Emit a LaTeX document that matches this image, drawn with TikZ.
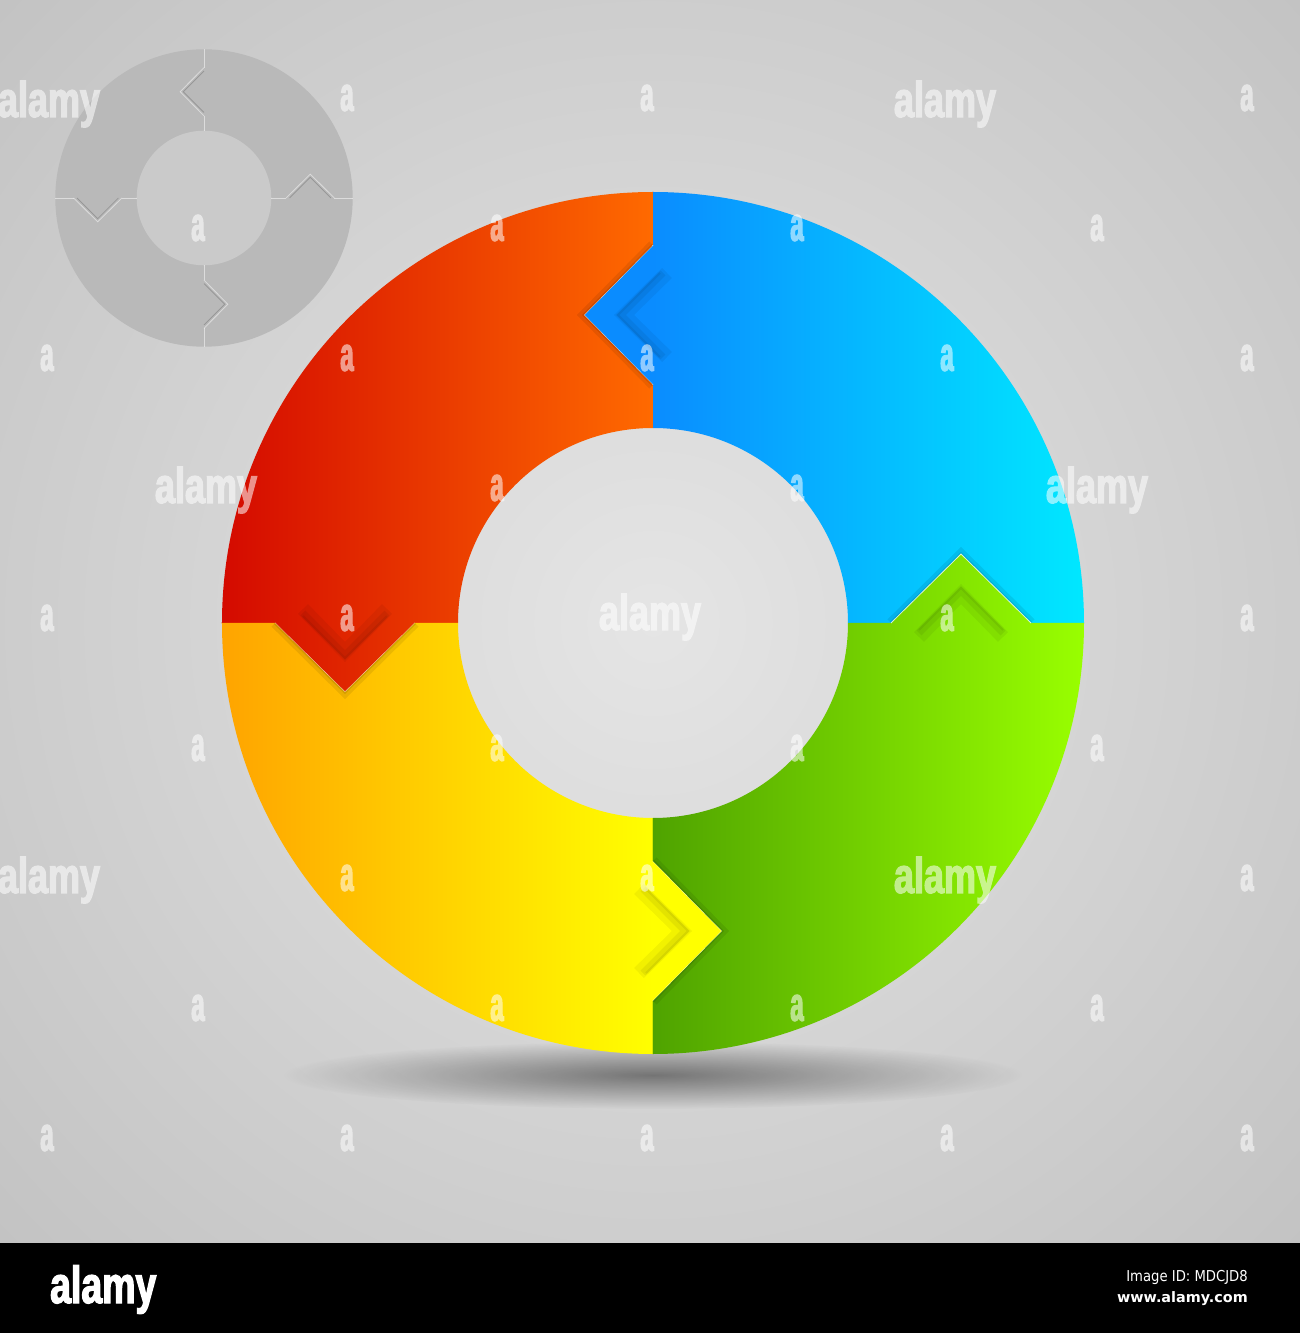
\documentclass[tikz,border=0pt]{standalone}
\usepackage{fontspec}
\usetikzlibrary{fadings}
\newfontfamily\wmfont[FakeStretch=0.72,FakeBold=2.5]{Liberation Sans Bold}
\newfontfamily\wmnarrow[FakeStretch=0.5,FakeBold=2.5]{Liberation Sans Bold}
\newfontfamily\idfont[FakeStretch=0.88]{DejaVu Sans}
\newfontfamily\urlfont{DejaVu Sans Bold}

\definecolor{bgin}{HTML}{E5E5E5}
\definecolor{bgout}{HTML}{C3C3C3}
\definecolor{redL}{HTML}{D40A00}
\definecolor{redR}{HTML}{FF6A00}
\definecolor{bluL}{HTML}{0A8CFF}
\definecolor{bluR}{HTML}{00E8FF}
\definecolor{grnL}{HTML}{4FA300}
\definecolor{grnR}{HTML}{99FF00}
\definecolor{yelL}{HTML}{FFA400}
\definecolor{yelR}{HTML}{FFFF00}
\definecolor{ringgray}{HTML}{B9B9B9}
\definecolor{holegray}{HTML}{CACACA}

\pgfdeclareradialshading{bgshade}{\pgfpoint{0bp}{0bp}}{color(0bp)=(bgin); color(25bp)=(bgout); color(50bp)=(bgout)}
\tikzfading[name=shadowfade, inner color=transparent!0, outer color=transparent!100]

\tikzset{
  sepline/.style={white,opacity=.5,line width=.8pt},
  creaseline/.style={black!60,opacity=.4,line width=.8pt},
  tabedge/.style={white,opacity=.75,line width=.8pt},
  wmsmall/.style={text=white,inner sep=0,font=\wmnarrow\fontsize{48}{48}\selectfont},
  wmbig/.style={text=white,inner sep=0,font=\wmfont\fontsize{50}{50}\selectfont}
}

\begin{document}
\begin{tikzpicture}[x=1pt,y=1pt]
\useasboundingbox (-653,-710) rectangle (647,623);
% background
\begin{scope}
  \clip (-653,-710) rectangle (647,623);
  \shade[shading=bgshade] (-900,-900) rectangle (900,900);
\end{scope}

% small gray ring
\begin{scope}[shift={(-449,425)},scale=.345]
  \fill[ringgray] (0,0) circle (431);
  \fill[holegray] (0,0) circle (195);
  \foreach \r in {0,90,180,270}{
    \draw[sepline,rotate=\r] (0,431) -- (0,378) (0,238) -- (0,195);
    \draw[sepline,rotate=\r] (0,378) -- (-69,308) -- (0,238);
    \draw[creaseline,rotate=\r] (0,368) -- (-60,308) -- (0,248);
  }
\end{scope}

% shadow under the ring
\fill[black,opacity=.45,path fading=shadowfade] (0,-452) ellipse (370 and 34);

% ring pieces
\foreach \r/\cl/\cr/\xa/\xb in {0/bluL/bluR/0/431,90/redL/redR/-431/0,180/yelL/yelR/-431/0,270/grnL/grnR/0/431}{
  \begin{scope}
    \clip[rotate=\r] (195,0) -- (238,0) -- (308,69) -- (378,0) -- (431,0)
      arc[start angle=0,end angle=90,radius=431] -- (0,378) -- (-69,308)
      -- (0,238) -- (0,195) arc[start angle=90,end angle=0,radius=195] -- cycle;
    \fill[\cl] (\xa-90,-440) rectangle (\xa,440);
    \fill[\cr] (\xb,-440) rectangle (\xb+90,440);
    \shade[left color=\cl,right color=\cr] (\xa,-440) rectangle (\xb,440);
    % shadow of the neighbour's tab
    \draw[black,opacity=.08,line width=10pt,rotate=\r] (238,0) -- (308,69) -- (378,0);
    \draw[black,opacity=.10,line width=3pt,rotate=\r] (238,0) -- (308,69) -- (378,0);
    % crease inside the own tab
    \draw[black,opacity=.05,line width=14pt,rotate=\r] (14,350) -- (-29,308) -- (14,266);
    \draw[black,opacity=.06,line width=7pt,rotate=\r] (10,350) -- (-32,308) -- (10,266);
    \draw[black,opacity=.06,line width=2pt,rotate=\r] (7,350) -- (-35,308) -- (7,266);
  \end{scope}
  \draw[tabedge,rotate=\r] (0,378) -- (-69,308) -- (0,238);
}

% watermarks
\begin{scope}[transparency group,opacity=.55]
\foreach \x/\y [count=\i] in {-306/525,-6/525,594/525,
    -455/395,-156/395,144/395,444/395,
    -606/265,-306/265,-6/265,294/265,594/265,
    -156/135,144/135,
    -606/5,-306/5,294/5,594/5,
    -455/-125,-156/-125,144/-125,444/-125,
    -306/-255,-6/-255,594/-255,
    -455/-385,-156/-385,144/-385,444/-385,
    -606/-515,-306/-515,-6/-515,294/-515,594/-515}
  \node[wmsmall] (wa\i) at (\x,\y) {a};
\foreach \x/\y [count=\i] in {-604/519,292/519,-447/133,444/133,-3/6,-604/-257,292/-257}
  \node[wmbig] (wb\i) at (\x,\y) {alamy};
\end{scope}

% bottom bar
\fill[black] (-653,-710) rectangle (647,-620);
\node[anchor=base west,inner sep=0,text=white,font=\wmfont\fontsize{52}{52}\selectfont] (logo) at (-603,-680) {alamy};
\node[anchor=base east,inner sep=0,text=white,font=\idfont\fontsize{15}{15}\selectfont] (imgid) at (595,-658) {Image ID: MDCJD8};
\node[anchor=base east,inner sep=0,text=white,font=\urlfont\fontsize{14.4}{14.4}\selectfont] (url) at (595,-679) {www.alamy.com};
\end{tikzpicture}
\end{document}
